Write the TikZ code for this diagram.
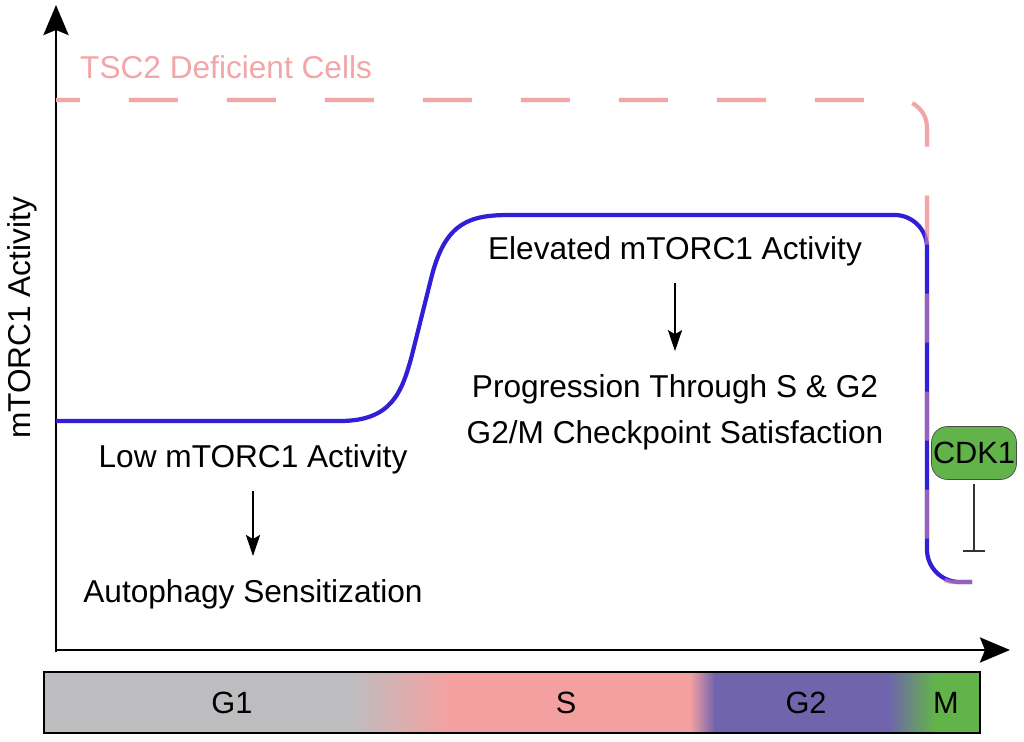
\documentclass[tikz,border=0pt]{standalone}
\usepackage{fontspec}
\setmainfont{Liberation Sans}
\usetikzlibrary{arrows.meta}

\definecolor{tscpink}{RGB}{242,166,168}
\definecolor{mtorblue}{RGB}{50,30,214}
\definecolor{gonegray}{RGB}{189,189,191}
\definecolor{sphase}{RGB}{245,160,160}
\definecolor{gtwopurple}{RGB}{112,100,172}
\definecolor{mgreen}{RGB}{98,180,74}

\tikzset{
  axisline/.style={line width=1.7pt, -{Stealth[length=0.6cm,width=0.5cm,inset=0.1cm]}},
  note/.style={font=\fontsize{18}{26}\selectfont, align=center},
  flow/.style={line width=1.5pt, -{Stealth[length=0.42cm,width=0.28cm,inset=0.08cm]}},
  tsc/.style={tscpink, line width=2.3pt, dash pattern=on 0.98cm off 0.98cm, dash phase=0.5cm, rounded corners=0.55cm},
  activity/.style={mtorblue, line width=2.4pt},
  cdkbox/.style={draw=black!70, fill=mgreen, rounded corners=0.32cm, minimum width=1.7cm, minimum height=1.06cm, inner sep=0pt, font=\fontsize{17.5}{19}\selectfont},
  inhibit/.style={black!80, line width=1pt, -{Bar[width=0.45cm]}},
  phasetext/.style={font=\fontsize{17.5}{20}\selectfont},
}

\begin{document}
\begin{tikzpicture}[x=0.02cm,y=-0.02cm]
\useasboundingbox (0,0) rectangle (1024,742);

% axes
\coordinate (O) at (56,650);
\coordinate (ytop) at (56,5);
\coordinate (xend) at (1010,650);
\draw[axisline] (56,651.5) -- (ytop);
\draw[axisline] (O) -- (xend);
\node[note, rotate=90] (ylab) at (22,318) {mTORC1 Activity};

% tsc2 deficient level
\draw[tsc] (56,100) -- (927,100) -- (927,582) -- (972,582);
\node[note, text=tscpink, anchor=west] (tsc) at (74,67) {TSC2 Deficient Cells};

% mTORC1 activity curve
\draw[activity] (56,421) -- (340,421) .. controls (392,421) and (402,392) .. (412,355)
  -- (432,275) .. controls (446,222) and (470,215) .. (510,215)
  [rounded corners=0.65cm] -- (927,215) -- (927,582) -- (972,582);
\draw[tsc, opacity=0.5] (56,100) -- (927,100) -- (927,582) -- (972,582);

% low activity
\node[note] (low) at (253,459) {Low mTORC1 Activity};
\node[note] (auto) at (253,594) {Autophagy Sensitization};
\draw[flow, shorten <=0.22cm, shorten >=0.34cm] (low) -- (auto);

% elevated activity
\node[note] (high) at (675,251) {Elevated mTORC1 Activity};
\node[note] (prog) at (675,412) {Progression Through S \& G2\\G2/M Checkpoint Satisfaction};
\draw[flow, shorten <=0.22cm, shorten >=0.34cm] (high) -- (prog);

% cdk1
\node[cdkbox] (cdk) at (974,453) {CDK1};
\coordinate (block) at (974,552);
\draw[inhibit, shorten <=0.08cm] (cdk) -- (block);

% cell cycle bar
\fill[gonegray] (44,672) rectangle (350,733);
\shade[left color=gonegray, right color=sphase] (350,672) rectangle (450,733);
\fill[sphase] (450,672) rectangle (690,733);
\shade[left color=sphase, right color=gtwopurple] (690,672) rectangle (715,733);
\fill[gtwopurple] (715,672) rectangle (888,733);
\shade[left color=gtwopurple, right color=mgreen] (888,672) rectangle (935,733);
\fill[mgreen] (935,672) rectangle (980,733);
\draw[line width=1pt] (44,672) rectangle (980,733);
\node[phasetext] (gone) at (232,703) {G1};
\node[phasetext] (s) at (566,703) {S};
\node[phasetext] (gtwo) at (806,703) {G2};
\node[phasetext] (m) at (946,703) {M};

\end{tikzpicture}
\end{document}
